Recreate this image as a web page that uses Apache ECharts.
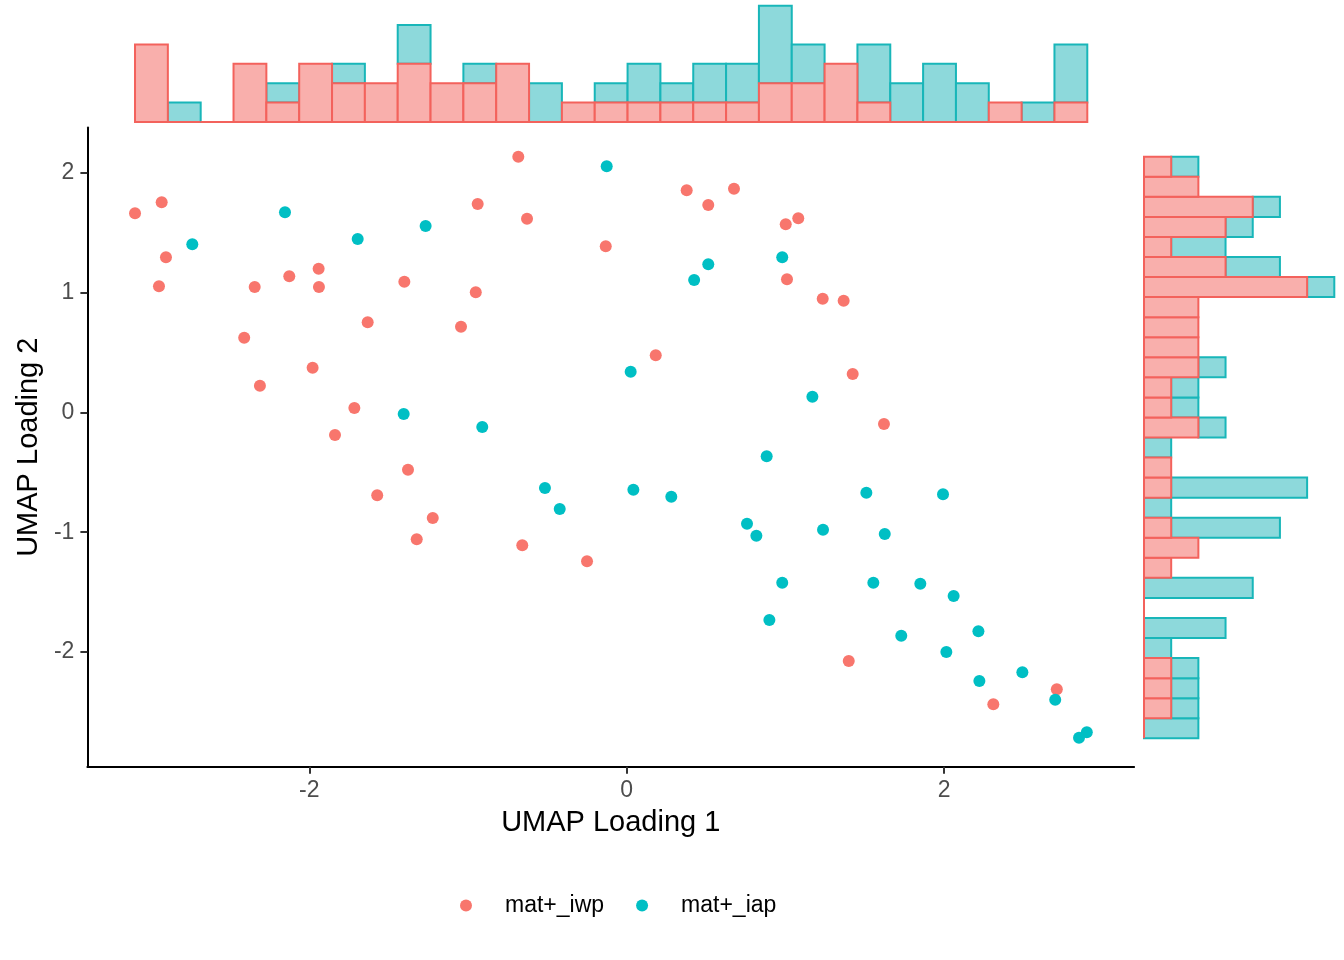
<!DOCTYPE html>
<html><head><meta charset="utf-8">
<script src="https://cdn.jsdelivr.net/npm/echarts@6/dist/echarts.min.js"></script>
<style>html,body{margin:0;padding:0;background:#fff}#chart{width:1344px;height:960px}</style>
</head><body><div id="chart"></div>
<script>
// ---- data ----
const groupNames = ['mat+_iwp', 'mat+_iap'];
const iwpX = [-3.098,-2.930,-2.903,-2.947,-1.941,-2.126,-2.344,-1.939,-1.401,-1.632,-2.410,-1.979,-2.311,-1.716,-1.838,
  -0.683,-0.939,-0.628,0.378,0.514,0.676,1.002,1.081,-0.132,1.010,-0.951,-1.044,0.183,1.235,1.367,1.424,1.621,
  -1.378,-1.572,-1.222,-1.323,-0.658,-0.250,1.399,2.710,2.310];
const iwpY = [1.664,1.756,1.297,1.054,1.201,1.138,1.048,1.048,1.093,0.754,0.625,0.374,0.224,0.038,-0.188,
  2.137,1.742,1.619,1.856,1.734,1.870,1.572,1.622,1.388,1.113,1.004,0.717,0.478,0.951,0.934,0.322,-0.096,
  -0.478,-0.692,-0.881,-1.059,-1.109,-1.243,-2.076,-2.312,-2.438];
const iapX = [-2.737,-2.153,-1.695,-1.267,-1.405,-0.126,0.514,0.425,0.980,0.025,-0.910,1.170,0.882,-0.515,-0.422,
  0.042,0.281,0.758,0.817,0.980,0.899,1.510,1.993,1.237,1.626,1.554,1.850,2.060,1.730,2.216,2.014,2.493,2.222,
  2.700,2.899,2.850];
const iapY = [1.405,1.673,1.449,1.558,-0.013,2.057,1.238,1.107,1.297,0.341,-0.121,0.132,-0.366,-0.631,-0.806,
  -0.645,-0.703,-0.929,-1.029,-1.422,-1.734,-0.670,-0.683,-0.979,-1.015,-1.422,-1.430,-1.533,-1.865,-1.828,-2.001,
  -2.170,-2.243,-2.399,-2.672,-2.717];
const xTicks = [-2, 0, 2];
const yTicks = [-2, -1, 0, 1, 2];
// top marginal histogram (bins along UMAP Loading 1), counts per bin
const xHistStart = -3.098, xHistWidth = 0.2069;
const xHistIwp = [4,0,0,3,1,3,2,2,3,2,2,3,0,1,1,1,1,1,1,2,2,3,1,0,0,0,1,0,1];
const xHistIap = [0,1,0,0,1,0,1,0,2,0,1,0,2,0,1,2,1,2,2,4,2,0,3,2,3,2,0,1,3];
// right marginal histogram (bins along UMAP Loading 2, ascending), counts per bin
const yHistStart = -2.722, yHistWidth = 0.16754;
const yHistIwp = [0,1,1,1,0,0,0,0,1,2,1,0,1,1,0,2,1,1,2,2,2,2,6,3,1,3,4,2,1];
const yHistIap = [2,1,1,1,1,3,0,4,0,0,4,1,5,0,1,1,1,1,1,0,0,0,1,2,2,1,1,0,1];

// ---- styles ----
const RED = '#F8766D', TEAL = '#00BFC4';
const RED_FILL = '#F9AFAC', TEAL_FILL = '#8DD9DB';
const RED_LINE = '#F3625C', TEAL_LINE = '#18B6B9';
const FONT = 'Liberation Sans, Arial, Helvetica, sans-serif';

const X_MIN = -3.398, X_MAX = 3.197, Y_MIN = -2.960, Y_MAX = 2.380;

function histData(start, width, counts, baseCounts) {
  return counts.map((c, i) => {
    const b = baseCounts ? baseCounts[i] : 0;
    return [start + i * width, start + (i + 1) * width, b, b + c];
  }).filter((d, i) => baseCounts ? counts[i] > 0 : true);
}

function topRender(fill, stroke) {
  return function (params, api) {
    const p0 = api.coord([api.value(0), api.value(3)]);
    const p1 = api.coord([api.value(1), api.value(2)]);
    if (api.value(3) === api.value(2)) {
      return {type: 'line', shape: {x1: p0[0], y1: p1[1], x2: p1[0], y2: p1[1]}, style: {stroke: stroke, lineWidth: 2}};
    }
    return {type: 'rect', shape: {x: p0[0], y: p0[1], width: p1[0] - p0[0], height: p1[1] - p0[1]},
      style: {fill: fill, stroke: stroke, lineWidth: 2}};
  };
}
function rightRender(fill, stroke) {
  return function (params, api) {
    const p0 = api.coord([api.value(2), api.value(1)]);
    const p1 = api.coord([api.value(3), api.value(0)]);
    if (api.value(3) === api.value(2)) {
      return {type: 'line', shape: {x1: p0[0], y1: p0[1], x2: p0[0], y2: p1[1]}, style: {stroke: stroke, lineWidth: 2}};
    }
    return {type: 'rect', shape: {x: p0[0], y: p0[1], width: p1[0] - p0[0], height: p1[1] - p0[1]},
      style: {fill: fill, stroke: stroke, lineWidth: 2}};
  };
}

const hiddenAxis = {show: false, splitLine: {show: false}};

const option = {
  animation: false,
  backgroundColor: '#ffffff',
  textStyle: {fontFamily: FONT},
  grid: [
    {left: 87.4, top: 127.6, width: 1046.7, height: 639.2},
    {left: 87.4, top: 5.7, width: 1046.7, height: 116.3},
    {left: 1144, top: 127.6, width: 190.3, height: 639.2}
  ],
  xAxis: [
    {type: 'value', gridIndex: 0, min: X_MIN, max: X_MAX,
      name: 'UMAP Loading 1', nameLocation: 'middle', nameGap: 42,
      nameTextStyle: {fontSize: 29, color: '#000', fontFamily: FONT},
      axisLine: {onZero: false, lineStyle: {color: '#000', width: 2}},
      axisTick: {customValues: xTicks, length: 7, lineStyle: {color: '#333', width: 2}},
      axisLabel: {customValues: xTicks, fontSize: 23, color: '#4D4D4D', margin: 12, fontFamily: FONT},
      splitLine: {show: false}},
    Object.assign({type: 'value', gridIndex: 1, min: X_MIN, max: X_MAX}, hiddenAxis),
    Object.assign({type: 'value', gridIndex: 2, min: 0, max: 7}, hiddenAxis)
  ],
  yAxis: [
    {type: 'value', gridIndex: 0, min: Y_MIN, max: Y_MAX,
      name: 'UMAP Loading 2', nameLocation: 'middle', nameGap: 42,
      nameTextStyle: {fontSize: 29, color: '#000', fontFamily: FONT},
      axisLine: {onZero: false, lineStyle: {color: '#000', width: 2}},
      axisTick: {customValues: yTicks, length: 7, lineStyle: {color: '#333', width: 2}},
      axisLabel: {customValues: yTicks, fontSize: 23, color: '#4D4D4D', margin: 13, fontFamily: FONT},
      splitLine: {show: false}},
    Object.assign({type: 'value', gridIndex: 1, min: 0, max: 6}, hiddenAxis),
    Object.assign({type: 'value', gridIndex: 2, min: Y_MIN, max: Y_MAX}, hiddenAxis)
  ],
  legend: {
    data: groupNames.map(n => ({name: n, icon: 'circle'})),
    left: 455, top: 889, itemWidth: 12, itemHeight: 12, itemGap: 32,
    textStyle: {fontSize: 23, color: '#000', fontFamily: FONT, padding: [0, 0, 0, 28]},
    selectedMode: false
  },
  series: [
    {name: 'hx-iap', type: 'custom', xAxisIndex: 1, yAxisIndex: 1, z: 2,
      renderItem: topRender(TEAL_FILL, TEAL_LINE), encode: {x: [0, 1], y: [2, 3]},
      data: histData(xHistStart, xHistWidth, xHistIap, xHistIwp)},
    {name: 'hx-iwp', type: 'custom', xAxisIndex: 1, yAxisIndex: 1, z: 3,
      renderItem: topRender(RED_FILL, RED_LINE), encode: {x: [0, 1], y: [2, 3]},
      data: histData(xHistStart, xHistWidth, xHistIwp, null)},
    {name: 'hy-iap', type: 'custom', xAxisIndex: 2, yAxisIndex: 2, z: 2,
      renderItem: rightRender(TEAL_FILL, TEAL_LINE), encode: {y: [0, 1], x: [2, 3]},
      data: histData(yHistStart, yHistWidth, yHistIap, yHistIwp)},
    {name: 'hy-iwp', type: 'custom', xAxisIndex: 2, yAxisIndex: 2, z: 3,
      renderItem: rightRender(RED_FILL, RED_LINE), encode: {y: [0, 1], x: [2, 3]},
      data: histData(yHistStart, yHistWidth, yHistIwp, null)},
    {name: groupNames[0], type: 'scatter', xAxisIndex: 0, yAxisIndex: 0, symbol: 'circle', symbolSize: 12,
      itemStyle: {color: RED, opacity: 1}, data: iwpX.map((x, i) => [x, iwpY[i]])},
    {name: groupNames[1], type: 'scatter', xAxisIndex: 0, yAxisIndex: 0, symbol: 'circle', symbolSize: 12,
      itemStyle: {color: TEAL, opacity: 1}, data: iapX.map((x, i) => [x, iapY[i]])}
  ]
};
const chart = echarts.init(document.getElementById('chart'), null, {renderer: 'canvas'});
chart.setOption(option);
</script></body></html>
